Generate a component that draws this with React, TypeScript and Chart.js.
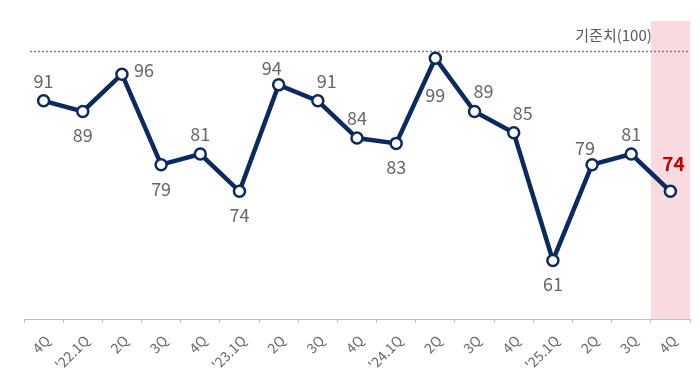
import React, { useEffect, useRef } from "react";
import { Chart, registerables } from "chart.js";

Chart.register(...registerables);

const categories = ["4Q", "'22.1Q", "2Q", "3Q", "4Q", "'23.1Q", "2Q", "3Q", "4Q", "'24.1Q", "2Q", "3Q", "4Q", "'25.1Q", "2Q", "3Q", "4Q"];
const values = [91, 89, 96, 79, 81, 74, 94, 91, 84, 83, 99, 89, 85, 61, 79, 81, 74];
const labelPlacement = ["above", "below", "right", "below", "above", "below", "aboveLeft", "aboveRight", "above", "below", "belowFar", "aboveRight", "aboveRight", "below", "aboveLeft", "above", "above"];
const baselineValue = 100;
const baselineLabel = "기준치(100)";
const highlightIndex = 16;

const FONT = "'Noto Sans CJK KR', 'Noto Sans', sans-serif";

const overlayPlugin = {
  id: "overlay",
  beforeDatasetsDraw(chart: any) {
    const { ctx, chartArea, scales } = chart;
    const x = scales.x;
    const y = scales.y;
    const step = x.getPixelForValue(1) - x.getPixelForValue(0);
    const cx = x.getPixelForValue(highlightIndex);
    ctx.save();
    ctx.fillStyle = "rgba(246, 205, 214, 0.75)";
    ctx.fillRect(cx - step / 2, chartArea.top, step, chartArea.bottom - chartArea.top);
    const by = Math.round(y.getPixelForValue(baselineValue)) - 1.5;
    ctx.strokeStyle = "#7f7f7f";
    ctx.lineWidth = 1.5;
    ctx.setLineDash([2, 2]);
    ctx.beginPath();
    ctx.moveTo(chartArea.left + 6, by);
    ctx.lineTo(chartArea.right, by);
    ctx.stroke();
    ctx.setLineDash([]);
    ctx.fillStyle = "#595959";
    ctx.font = `15px ${FONT}`;
    ctx.textAlign = "right";
    ctx.textBaseline = "middle";
    ctx.fillText(baselineLabel, cx - step / 2 + 1, by - 16);
    ctx.restore();
  },
  afterDatasetsDraw(chart: any) {
    const { ctx } = chart;
    const meta = chart.getDatasetMeta(0);
    ctx.save();
    ctx.textAlign = "center";
    ctx.textBaseline = "middle";
    meta.data.forEach((pt: any, i: number) => {
      const p = labelPlacement[i];
      let dx = 0, dy = 0;
      if (p === "above") dy = -20;
      else if (p === "below") dy = 24;
      else if (p === "belowFar") dy = 37;
      else if (p === "right") { dx = 22; dy = -4; }
      else if (p === "aboveLeft") { dx = -7; dy = -17; }
      else if (p === "aboveRight") { dx = 9; dy = -20; }
      if (i === highlightIndex) {
        ctx.fillStyle = "#c00000";
        ctx.font = `bold 19px ${FONT}`;
        dx = 3; dy = -28;
      } else {
        ctx.fillStyle = "#666666";
        ctx.font = `18px ${FONT}`;
      }
      ctx.fillText(String(values[i]), pt.x + dx, pt.y + dy);
    });
    ctx.restore();
  },
};

export default function App() {
  const ref = useRef<HTMLCanvasElement | null>(null);
  useEffect(() => {
    if (!ref.current) return;
    const chart = new Chart(ref.current, {
      type: "line",
      data: {
        labels: categories,
        datasets: [
          {
            data: values,
            borderColor: "#0c2a5f",
            borderWidth: 4.5,
            pointBackgroundColor: "#ffffff",
            pointBorderColor: "#0c2a5f",
            pointBorderWidth: 2.5,
            pointRadius: 5.5,
            tension: 0,
          },
        ],
      },
      options: {
        responsive: false,
        animation: false,
        layout: { padding: { left: 16, right: 2, top: 13, bottom: 0 } },
        plugins: { legend: { display: false }, tooltip: { enabled: false } },
        scales: {
          x: {
            offset: true,
            grid: {
              offset: true,
              display: true,
              drawOnChartArea: false,
              color: "#bfbfbf",
              tickLength: 4,
              tickColor: "#bfbfbf",
            },
            border: { display: true, color: "#bfbfbf", width: 1 },
            ticks: {
              autoSkip: false,
              maxRotation: 45,
              minRotation: 45,
              color: "#6b6b6b",
              font: { size: 14, family: FONT },
              padding: 9,
              labelOffset: 4,
            },
            afterFit(scale: any) {
              scale.height = 54;
            },
          },
          y: {
            display: false,
            min: 50,
            max: 106,
          },
        },
      },
      plugins: [overlayPlugin],
    });
    return () => chart.destroy();
  }, []);
  return (
    <div style={{ width: 690, height: 365 }}>
      <canvas ref={ref} width={690} height={365} />
    </div>
  );
}
